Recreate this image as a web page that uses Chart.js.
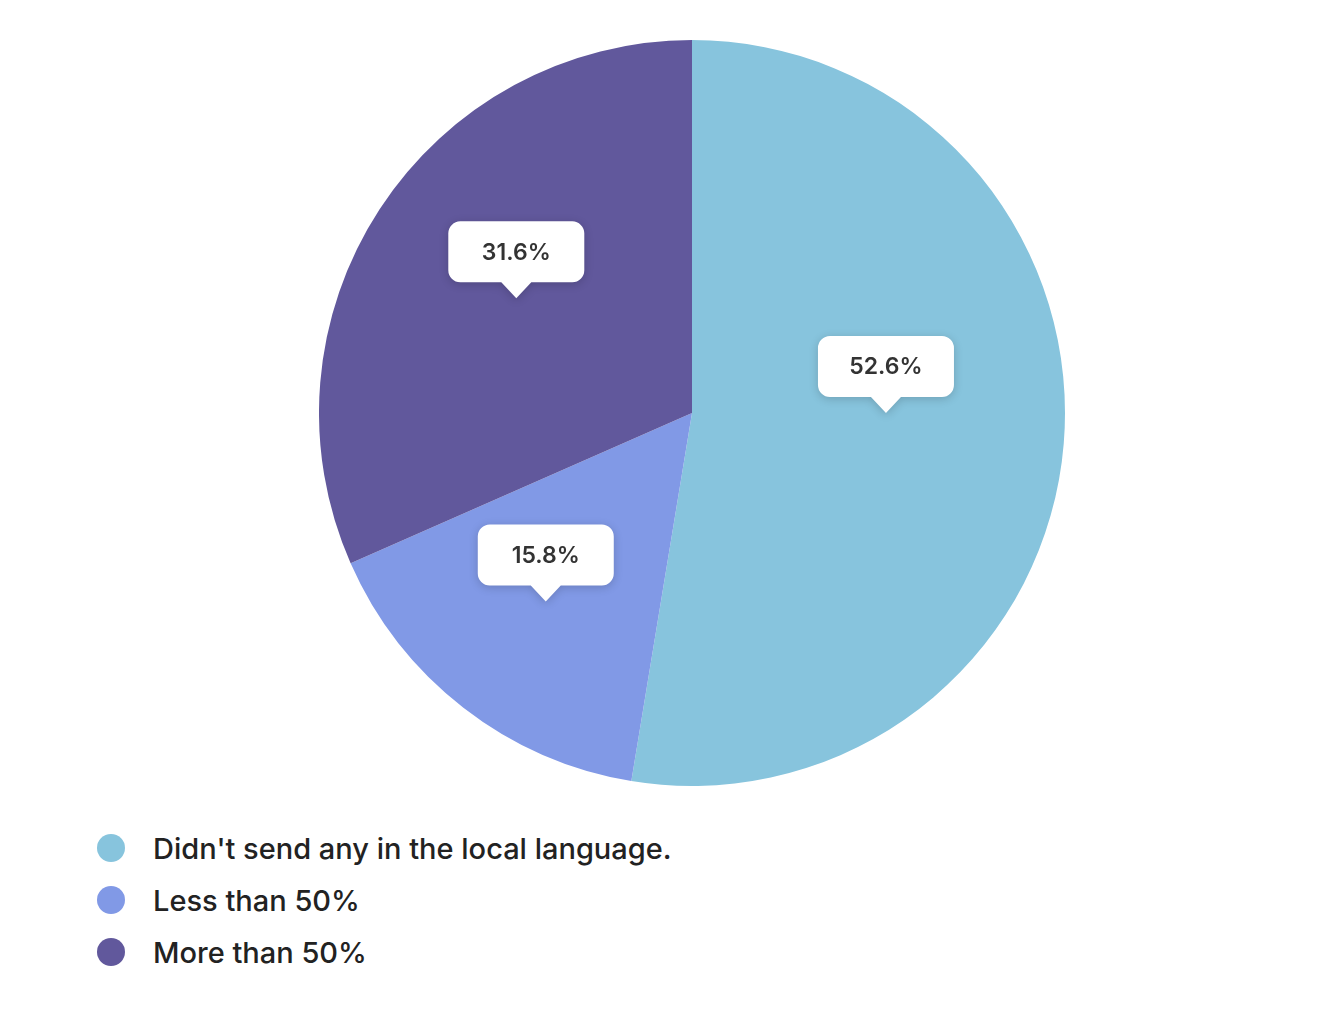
<!DOCTYPE html>
<html lang="en">
<head>
    <meta charset="UTF-8">
    <title>Local language share</title>
    <script src="https://cdn.jsdelivr.net/npm/chart.js"></script>
    <style>
        html, body { margin: 0; padding: 0; background: #fff; }
        body { width: 1330px; height: 1012px; position: relative; overflow: hidden; font-family: Inter, "Open Sans", sans-serif; }
        #pie-wrap { position: absolute; left: 319px; top: 40px; width: 746px; height: 746px; }
        #legend { position: absolute; left: 97px; top: 822px; margin: 0; padding: 0; list-style: none; }
        #legend li { display: flex; align-items: center; height: 52px; font-size: 29px; font-weight: 500; color: #222; }
        #legend .dot { width: 28px; height: 28px; border-radius: 50%; margin-right: 28px; }
    </style>
</head>
<body>
    <div id="pie-wrap"><canvas id="pie"></canvas></div>
    <ul id="legend"></ul>

    <script>
        const labels = ["Didn't send any in the local language.", "Less than 50%", "More than 50%"];
        const values = [52.6, 15.8, 31.6];
        const colors = ['#87c4dd', '#8199e6', '#61589c'];

        // callout boxes placed near each slice's centroid
        const calloutPlugin = {
            id: 'callouts',
            afterDatasetsDraw(chart) {
                const ctx = chart.ctx;
                const meta = chart.getDatasetMeta(0);
                meta.data.forEach((arc, i) => {
                    const p = arc.getProps(['x', 'y', 'startAngle', 'endAngle', 'outerRadius'], true);
                    const half = (p.endAngle - p.startAngle) / 2;
                    let mid = p.startAngle + half;
                    let d = 2 * p.outerRadius * Math.sin(half) / (3 * half);
                    if (half > Math.PI / 2) {
                        // big slice: keep label level with the centre
                        mid = Math.round(mid / (Math.PI / 2)) * (Math.PI / 2);
                        d = p.outerRadius * 0.52;
                    }
                    const tx = p.x + Math.cos(mid) * d;
                    const ty = p.y + Math.sin(mid) * d;

                    const w = 136, h = 61, r = 12, ah = 16, aw = 15;
                    const left = tx - w / 2, top = ty - ah - h;

                    ctx.save();
                    ctx.shadowColor = 'rgba(0,0,0,0.18)';
                    ctx.shadowBlur = 10;
                    ctx.shadowOffsetY = 2;
                    ctx.fillStyle = '#fff';
                    ctx.beginPath();
                    ctx.moveTo(left + r, top);
                    ctx.lineTo(left + w - r, top);
                    ctx.arcTo(left + w, top, left + w, top + r, r);
                    ctx.lineTo(left + w, top + h - r);
                    ctx.arcTo(left + w, top + h, left + w - r, top + h, r);
                    ctx.lineTo(tx + aw, top + h);
                    ctx.lineTo(tx, ty);
                    ctx.lineTo(tx - aw, top + h);
                    ctx.lineTo(left + r, top + h);
                    ctx.arcTo(left, top + h, left, top + h - r, r);
                    ctx.lineTo(left, top + r);
                    ctx.arcTo(left, top, left + r, top, r);
                    ctx.closePath();
                    ctx.fill();
                    ctx.restore();

                    ctx.save();
                    ctx.fillStyle = '#333';
                    ctx.font = '600 23px Inter, "Open Sans", sans-serif';
                    ctx.textAlign = 'center';
                    ctx.textBaseline = 'middle';
                    ctx.fillText(values[i].toFixed(1) + '%', tx, top + h / 2 + 1);
                    ctx.restore();
                });
            }
        };

        new Chart(document.getElementById('pie'), {
            type: 'pie',
            data: {
                labels: labels,
                datasets: [{
                    data: values,
                    backgroundColor: colors,
                    borderWidth: 0
                }]
            },
            options: {
                responsive: true,
                maintainAspectRatio: false,
                animation: false,
                layout: { padding: 0 },
                plugins: {
                    legend: { display: false },
                    tooltip: { enabled: false }
                }
            },
            plugins: [calloutPlugin]
        });

        const legend = document.getElementById('legend');
        labels.forEach((label, i) => {
            const li = document.createElement('li');
            li.innerHTML = `<span class="dot" style="background:${colors[i]}"></span><span>${label}</span>`;
            legend.appendChild(li);
        });
    </script>
</body>
</html>
